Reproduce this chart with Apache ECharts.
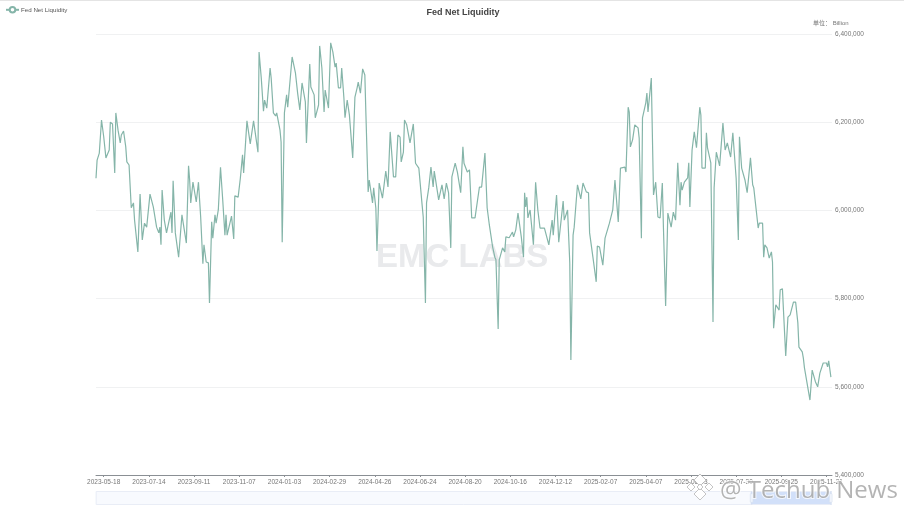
<!DOCTYPE html>
<html>
<head>
<meta charset="utf-8">
<style>html,body{margin:0;padding:0;background:#fff}#chart{width:904px;height:514px}</style>
<script src="https://cdn.jsdelivr.net/npm/echarts@6/dist/echarts.min.js"></script>
</head>
<body>
<div id="chart"></div>
<script>
// Weekday axis: first date and number of weekdays on the axis
const firstDate = '2023-05-09';
const weekdayCount = 669;
// Weekday positions of the line's readable turning points, and their values (thousands of Billion units)
const turnIndex = [0,1,3,5,7,9,10,12,13,15,17,18,20,22,23,25,27,28,30,32,34,35,36,38,40,41,42,44,46,49,52,55,57,58,59,60,62,64,68,69,70,72,75,78,82,84,85,86,88,91,93,95,97,98,100,102,103,105,106,108,109,111,113,115,117,118,119,123,125,126,129,131,133,134,137,140,143,147,148,150,152,153,155,158,159,161,163,164,167,168,169,171,173,174,178,179,181,183,185,186,187,190,191,194,195,198,199,202,203,205,207,208,211,212,213,215,217,218,220,222,223,225,226,228,230,233,235,237,238,240,242,244,245,247,248,251,252,254,255,257,260,263,265,267,270,272,274,276,277,279,280,282,285,288,290,293,296,297,299,300,302,304,306,307,311,314,316,318,320,322,323,326,328,331,333,334,337,339,341,344,348,350,353,355,357,360,362,363,365,366,369,371,372,375,378,379,381,383,386,388,389,390,391,392,394,397,399,401,403,407,411,414,415,418,420,424,425,428,430,431,433,434,437,440,442,445,447,448,451,454,455,457,460,462,466,469,471,472,474,476,480,481,483,484,485,487,489,492,493,495,496,499,500,501,504,506,508,510,512,514,515,517,519,522,524,526,528,530,531,532,534,537,538,539,541,543,545,548,549,550,553,554,555,558,560,561,563,564,566,569,571,573,576,578,581,583,584,586,589,591,594,596,597,601,602,605,606,607,609,611,613,614,615,617,620,621,623,626,628,630,633,635,637,638,641,642,643,644,648,650,653,655,657,660,663,664,665,667];
const turnValueK = [6073,6114,6130,6205,6167,6119,6117,6137,6200,6196,6085,6221,6182,6153,6171,6180,6144,6110,6103,6006,6017,5978,5974,5906,6037,6035,5933,5971,5962,6037,6008,5962,5949,5962,5922,6046,5978,5949,5996,5949,6067,5949,5894,5990,5926,6101,6069,6017,6064,6019,6064,5985,5879,5922,5883,5881,5790,5974,5937,5990,5971,6001,6098,6024,5944,5990,5944,5987,5935,6033,6030,6073,6126,6085,6203,6151,6203,6132,6359,6300,6225,6250,6232,6323,6300,6221,6214,6221,6182,6155,5928,6221,6262,6234,6348,6348,6312,6266,6228,6228,6289,6246,6153,6332,6280,6262,6210,6239,6373,6323,6223,6273,6232,6232,6380,6359,6325,6334,6278,6278,6323,6255,6210,6250,6216,6119,6257,6278,6291,6266,6321,6307,6216,6042,6069,6017,6051,6005,5908,6062,6028,6089,6053,6178,6076,6076,6171,6166,6110,6132,6205,6194,6153,6196,6107,6096,6012,5985,5790,6017,6051,6098,6053,6089,6024,6058,6026,6062,6040,5915,6076,6107,6087,6040,6144,6107,6087,6092,5983,5983,6053,6053,6130,6006,5967,5917,5894,5888,5731,5888,5915,5906,5940,5938,5951,5940,5956,5994,5940,5894,6040,6008,6030,5983,6001,5922,6064,6001,5960,5960,5922,5978,5944,6035,5928,6021,5978,6001,5881,5661,5944,5962,6058,6026,6062,6042,6040,5949,5894,5838,5919,5917,5876,5937,5971,6001,6069,6069,5974,6096,6098,6087,6234,6223,6144,6160,6194,6187,6164,5937,6210,6244,6266,6223,6300,6035,6064,5985,5983,6062,5962,5783,5994,5962,5996,5978,6108,6012,6064,6046,6064,6074,6108,6008,6137,6178,6142,6234,6216,6096,6096,6176,6142,6108,5747,6051,6132,6132,6101,6198,6137,6153,6121,6176,6073,5933,6167,6096,6069,6040,6119,6058,6051,5960,5971,5971,5894,5922,5915,5892,5906,5883,5733,5786,5774,5820,5822,5670,5758,5763,5792,5792,5745,5690,5679,5665,5643,5645,5570,5638,5611,5600,5631,5654,5654,5645,5659,5622];

const seriesName = 'Fed Net Liquidity';
const titleText = 'Fed Net Liquidity';
const unitText = '单位： Billion';
const brandText = 'EMC LABS';
const overlayText = '@ Techub News';
const labelStep = 41;
const labelOffset = 7;

const categories = [];
(function () {
  const d = new Date(firstDate + 'T00:00:00Z');
  while (categories.length < weekdayCount) {
    const w = d.getUTCDay();
    if (w !== 0 && w !== 6) categories.push(d.toISOString().slice(0, 10));
    d.setUTCDate(d.getUTCDate() + 1);
  }
})();
const lineData = new Array(weekdayCount).fill(null);
turnIndex.forEach((p, i) => { lineData[p] = turnValueK[i] * 1000; });
const onTick = (i) => (i - labelOffset) % labelStep === 0;

const baseFont = '"Liberation Sans", "Noto Sans CJK SC", sans-serif';
const logoStyle = { fill: '#fff', stroke: 'rgba(150,150,150,0.55)', lineWidth: 1 };
const diamond = (cx, cy, r) => ({
  type: 'polygon', silent: true, z: 11, style: logoStyle,
  shape: { points: [[cx, cy - r], [cx + r, cy], [cx, cy + r], [cx - r, cy]] }
});

const chart = echarts.init(document.getElementById('chart'), null, { renderer: 'canvas' });
chart.setOption({
  animation: false,
  backgroundColor: '#fff',
  textStyle: { fontFamily: baseFont },
  title: {
    text: titleText, left: 458, top: 3, textAlign: 'center',
    textStyle: { fontSize: 9, fontWeight: 'bold', color: '#444', fontFamily: baseFont }
  },
  legend: {
    data: [seriesName], left: 0, top: 1, itemWidth: 13, itemHeight: 7, itemGap: 4,
    textStyle: { fontSize: 6.2, color: '#555', fontFamily: baseFont, padding: [0, 0, 0, -3] }
  },
  grid: { left: 96, right: 72, top: 34, bottom: 39, containLabel: false },
  xAxis: [{
    type: 'category', data: categories, boundaryGap: false,
    axisLine: { lineStyle: { color: '#8a8f94', width: 1 } },
    axisTick: { show: true, length: 2, interval: onTick, lineStyle: { color: '#8a8f94' } },
    axisLabel: { interval: onTick, fontSize: 6.5, color: '#777', margin: 4, hideOverlap: false, fontFamily: baseFont },
    splitLine: { show: false }
  }, {
    type: 'category', data: categories, boundaryGap: false, show: false, gridIndex: 0
  }],
  yAxis: [{
    type: 'value', position: 'right', min: 5400000, max: 6400000, interval: 200000,
    name: unitText, nameLocation: 'end', nameGap: 8,
    nameTextStyle: { fontSize: 6, color: '#777', align: 'left', padding: [0, 0, 0, -19], fontFamily: baseFont },
    axisLine: { show: false }, axisTick: { show: false },
    axisLabel: { fontSize: 6.5, color: '#777', margin: 3, fontFamily: baseFont,
      formatter: (v) => v.toLocaleString('en-US') },
    splitLine: { lineStyle: { color: '#f0f1f2', width: 1 } }
  }],
  dataZoom: [{
    type: 'slider', xAxisIndex: 1, filterMode: 'none', start: 89, end: 100,
    left: 95, right: 73, top: 491, height: 14,
    showDetail: false, showDataShadow: false, brushSelect: false,
    borderColor: '#e9edf6', backgroundColor: 'rgba(244,247,253,0.6)',
    fillerColor: 'rgba(200,218,248,0.8)',
    handleSize: '100%',
    handleStyle: { color: '#fff', borderColor: '#d3deef', opacity: 0.6 },
    moveHandleSize: 0
  }],
  series: [{
    name: seriesName, type: 'line', data: lineData, connectNulls: true,
    showSymbol: false, symbol: 'emptyCircle', symbolSize: 6,
    lineStyle: { color: '#85b5a9', width: 1.2 }, itemStyle: { color: '#85b5a9' },
    xAxisIndex: 0, yAxisIndex: 0, silent: true, z: 3
  }],
  graphic: [
    { type: 'rect', shape: { x: 0, y: 0, width: 904, height: 1 }, style: { fill: '#e4e4e4' }, silent: true },
    { type: 'text', left: 376, top: 241, silent: true, z: 1,
      style: { text: brandText, font: 'bold 33px "Liberation Sans", sans-serif', fill: '#e9eaec' } },
    diamond(700, 480, 6), diamond(700, 494, 6), diamond(691, 487, 4), diamond(709, 487, 4), diamond(700, 487, 3),
    { type: 'text', left: 719, top: 478, silent: true, z: 10,
      style: { text: overlayText, font: '24px "Open Sans", sans-serif', fill: 'rgba(140,140,140,0.65)',
        stroke: 'rgba(255,255,255,0.7)', lineWidth: 2 } }
  ]
});
</script>
</body>
</html>
